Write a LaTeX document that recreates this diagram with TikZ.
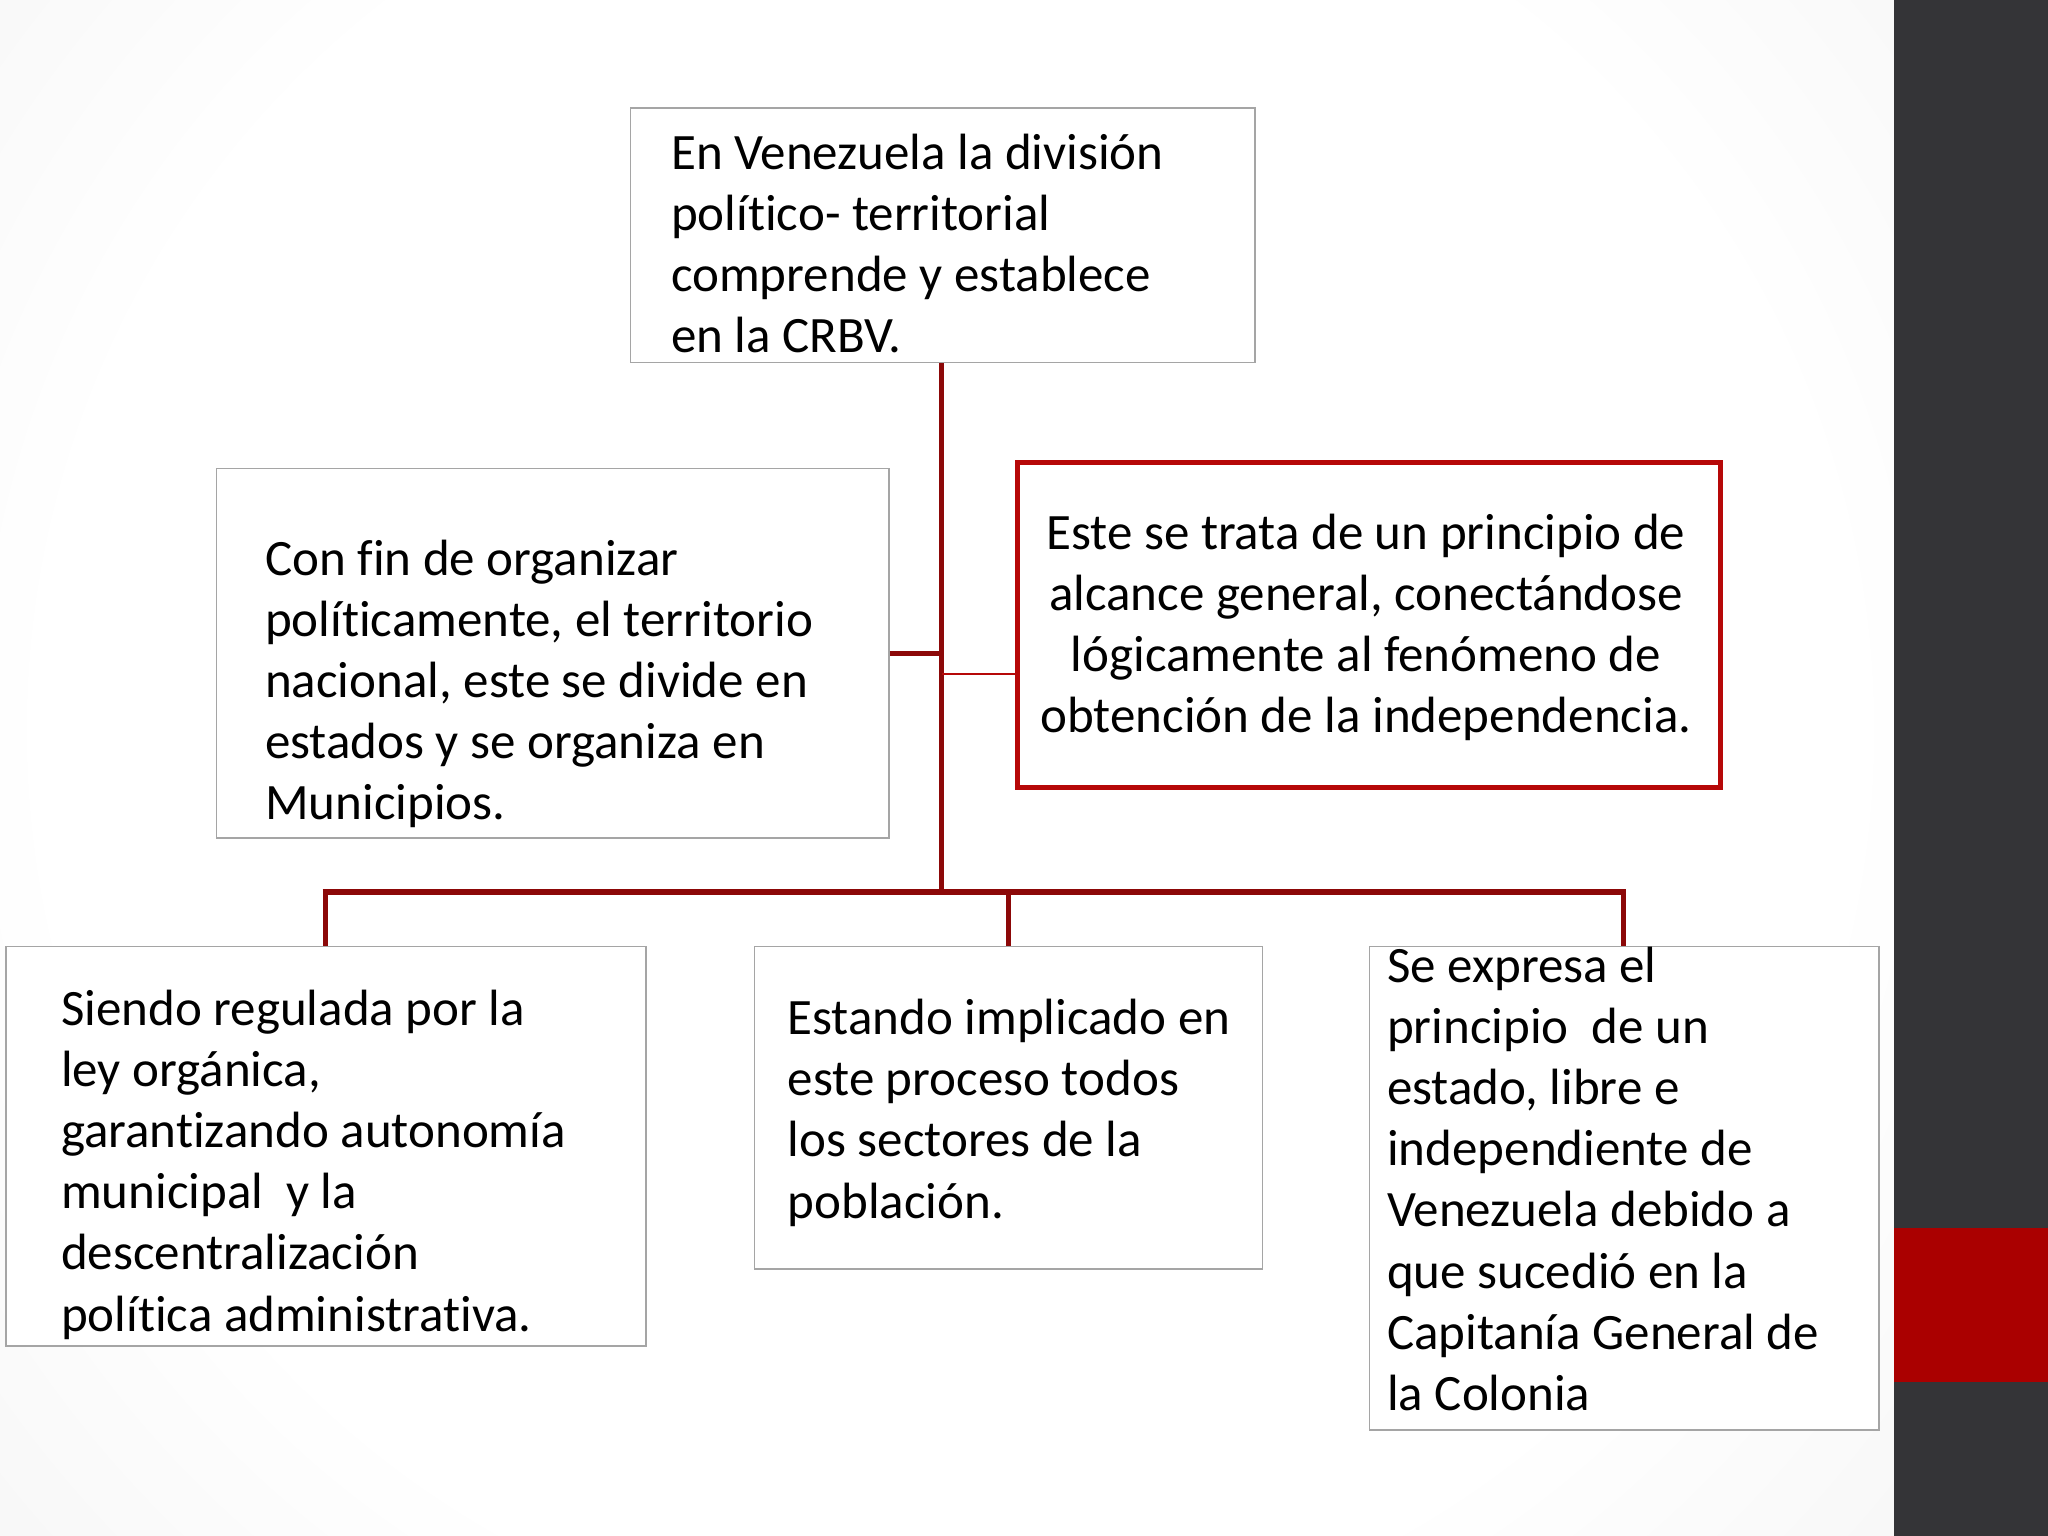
\documentclass[tikz,border=0pt]{standalone}
\usepackage{fontspec}
\setmainfont[Ligatures=NoCommon]{Carlito}
\definecolor{trunkred}{RGB}{140,8,8}
\definecolor{boxred}{RGB}{182,8,8}
\definecolor{stripgray}{RGB}{52,52,55}
\definecolor{stripred}{RGB}{170,0,0}
\definecolor{boxgray}{RGB}{165,165,165}
\pgfdeclareradialshading{bgshade}{\pgfpoint{0bp}{0bp}}{color(0bp)=(white); color(18bp)=(white); color(30bp)=(black!5); color(38bp)=(black!11); color(50bp)=(black!14)}
\tikzset{
  gbox/.style={draw=boxgray, line width=1.6pt, fill=white, rectangle, inner sep=0pt, anchor=north west},
  rbox/.style={draw=boxred, line width=5pt, fill=white, rectangle, inner sep=0pt, anchor=north west},
  txt/.style={inner sep=0pt, font=\fontsize{51}{61.2}\selectfont},
  trunk/.style={draw=trunkred, line width=5pt},
  bus/.style={draw=trunkred, line width=6.5pt},
  thin/.style={draw=boxred, line width=1.6pt}
}
\begin{document}
\begin{tikzpicture}[x=1pt,y=-1pt]
\useasboundingbox (0,0) rectangle (2048,1536);
% background
\shade[shading=bgshade] (-300,-520) rectangle (2200,1980);
% right strip
\fill[stripgray] (1894,0) rectangle (2048,1536);
\fill[stripred] (1894,1228) rectangle (2048,1382);

% boxes
\node[gbox, minimum width=624.4pt, minimum height=254.7pt] (top) at (629.5,107.1) {};
\node[gbox, minimum width=672.7pt, minimum height=369.6pt] (lft) at (215.5,467.6) {};
\node[rbox, minimum width=702.7pt, minimum height=325.2pt] (red) at (1014.8,459.8) {};
\node[gbox, minimum width=640pt, minimum height=399.7pt] (bl) at (5.2,945.6) {};
\node[gbox, minimum width=508.1pt, minimum height=322.6pt] (bm) at (753.6,945.6) {};
\node[gbox, minimum width=509.4pt, minimum height=483.3pt] (br) at (1368.8,945.6) {};

% connectors
\coordinate (j) at (941.7,892);
\coordinate (bj) at (325.2,892);
\coordinate (ej) at (1623.5,892);
\coordinate (lj) at (941.7,653);
\coordinate (rj) at (941.7,674);
\draw[trunk] (top.south -| j) -- (j);
\draw[bus] ([xshift=-2.5pt]bj) -- ([xshift=2.5pt]ej);
\draw[trunk] (bj) -- (bj |- bl.north);
\draw[trunk] (bm.north |- j) -- (bm.north);
\draw[trunk] (ej) -- (ej |- br.north);
\draw[trunk] (lft.east |- lj) -- (lj);
\draw[thin] (rj) -- (rj -| red.west);

% texts
\node[txt, anchor=north west, align=left] (ttop) at (671,126)
  {\strut En Venezuela la división\\político- territorial\\comprende y establece\\en la CRBV.};
\node[txt, anchor=north west, align=left] (tlft) at (265,532)
  {\strut Con fin de organizar\\políticamente, el territorio\\nacional, este se divide en\\estados y se organiza en\\Municipios.};
\node[txt, anchor=north, align=center] (tred) at (1366,506)
  {\strut Este se trata de un principio de\\alcance general, conectándose\\lógicamente al fenómeno de\\obtención de la independencia.};
\node[txt, anchor=north west, align=left] (tbl) at (61,982)
  {\strut Siendo regulada por la\\ley orgánica,\\garantizando autonomía\\municipal~ y la\\descentralización\\política administrativa.};
\node[txt, anchor=north west, align=left] (tbm) at (787.5,991.5)
  {\strut Estando implicado en\\este proceso todos\\los sectores de la\\población.};
\node[txt, anchor=north west, align=left] (tbr) at (1387,939)
  {\strut Se expresa el\\principio~ de un\\estado, libre e\\independiente de\\Venezuela debido a\\que sucedió en la\\Capitanía General de\\la Colonia};
\end{tikzpicture}
\end{document}
